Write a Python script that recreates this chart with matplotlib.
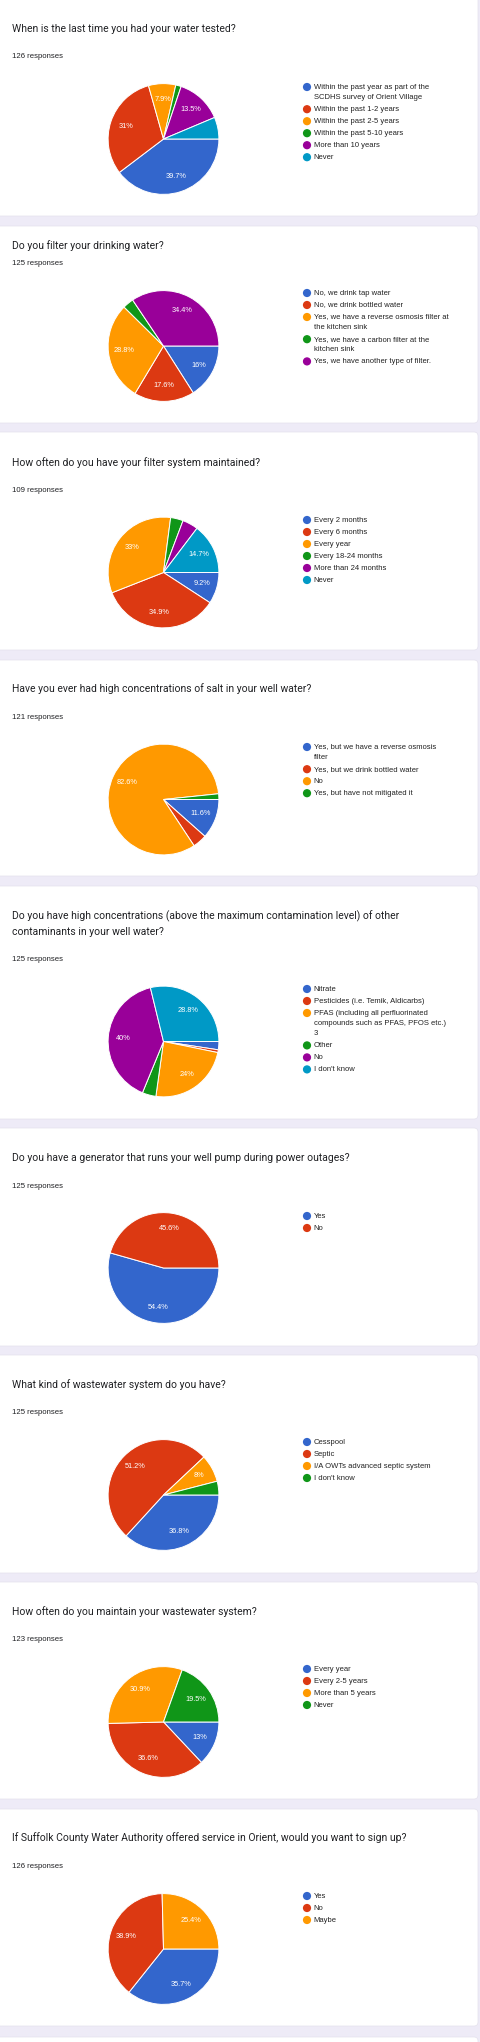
import matplotlib
matplotlib.use("Agg")
import matplotlib.pyplot as plt
from matplotlib.patches import FancyBboxPatch, Circle

plt.rcParams['font.family'] = ['Roboto', 'DejaVu Sans']
ARIAL = ['Liberation Sans', 'DejaVu Sans']

W, H = 480, 2042
DPI = 100

PALETTE = ["#3366cc", "#dc3912", "#ff9900", "#109618", "#990099", "#0099c6"]

# ---- data (response counts) ----
q1_title = ["When is the last time you had your water tested?"]
q1_n = 126
q1_labels = ["Within the past year as part of the\nSCDHS survey of Orient Village",
             "Within the past 1-2 years", "Within the past 2-5 years",
             "Within the past 5-10 years", "More than 10 years", "Never"]
q1_counts = [50, 39, 10, 2, 17, 8]

q2_title = ["Do you filter your drinking water?"]
q2_n = 125
q2_labels = ["No, we drink tap water", "No, we drink bottled water",
             "Yes, we have a reverse osmosis filter at\nthe kitchen sink",
             "Yes, we have a carbon filter at the\nkitchen sink",
             "Yes, we have another type of filter."]
q2_counts = [20, 22, 36, 4, 43]

q3_title = ["How often do you have your filter system maintained?"]
q3_n = 109
q3_labels = ["Every 2 months", "Every 6 months", "Every year",
             "Every 18-24 months", "More than 24 months", "Never"]
q3_counts = [10, 38, 36, 4, 5, 16]

q4_title = ["Have you ever had high concentrations of salt in your well water?"]
q4_n = 121
q4_labels = ["Yes, but we have a reverse osmosis\nfilter", "Yes, but we drink bottled water",
             "No", "Yes, but have not mitigated it"]
q4_counts = [14, 5, 100, 2]

q5_title = ["Do you have high concentrations (above the maximum contamination level) of other",
            "contaminants in your well water?"]
q5_n = 125
q5_labels = ["Nitrate", "Pesticides (i.e. Temik, Aldicarbs)",
             "PFAS (including all perfluorinated\ncompounds such as PFAS, PFOS etc.)\n3",
             "Other", "No", "I don't know"]
q5_counts = [3, 1, 30, 5, 50, 36]

q6_title = ["Do you have a generator that runs your well pump during power outages?"]
q6_n = 125
q6_labels = ["Yes", "No"]
q6_counts = [68, 57]

q7_title = ["What kind of wastewater system do you have?"]
q7_n = 125
q7_labels = ["Cesspool", "Septic", "I/A OWTs advanced septic system", "I don't know"]
q7_counts = [46, 64, 10, 5]

q8_title = ["How often do you maintain your wastewater system?"]
q8_n = 123
q8_labels = ["Every year", "Every 2-5 years", "More than 5 years", "Never"]
q8_counts = [16, 45, 38, 24]

q9_title = ["If Suffolk County Water Authority offered service in Orient, would you want to sign up?"]
q9_n = 126
q9_labels = ["Yes", "No", "Maybe"]
q9_counts = [45, 49, 32]

questions = [
    (q1_title, q1_n, q1_labels, q1_counts),
    (q2_title, q2_n, q2_labels, q2_counts),
    (q3_title, q3_n, q3_labels, q3_counts),
    (q4_title, q4_n, q4_labels, q4_counts),
    (q5_title, q5_n, q5_labels, q5_counts),
    (q6_title, q6_n, q6_labels, q6_counts),
    (q7_title, q7_n, q7_labels, q7_counts),
    (q8_title, q8_n, q8_labels, q8_counts),
    (q9_title, q9_n, q9_labels, q9_counts),
]

# ---- layout in pixels from the top of the image ----
cards = [(-8, 216), (226, 423), (432, 650), (660, 876), (886, 1119),
         (1128, 1346), (1355, 1573), (1582, 1799), (1809, 2026), (2037, 2070)]
title_y = [29, 246, 463, 689, 916, 1158, 1385, 1612, 1838]
resp_y = [56, 263, 490, 717, 959, 1186, 1412, 1639, 1866]
pie_y = [139, 346, 572.5, 799.5, 1041.5, 1268, 1495, 1722, 1949]
leg_y = [87, 293, 520, 747, 989, 1216, 1442, 1669, 1896]
pie_x, pie_r = 163.5, 56.5


def px(x, y):
    return x / DPI, (H - y) / DPI


fig = plt.figure(figsize=(W / DPI, H / DPI), dpi=DPI)
fig.patch.set_facecolor("#eeebf7")
tr = fig.dpi_scale_trans

for top, bot in cards:
    x0, y0 = px(0, bot)
    card = FancyBboxPatch((x0 - 0.05, y0), 478 / DPI + 0.05, (bot - top) / DPI,
                          boxstyle="round,pad=0,rounding_size=0.04",
                          facecolor="white", edgecolor="#e4e1ec", linewidth=0.5,
                          transform=tr, zorder=-5)
    fig.add_artist(card)

for i, (title, n, labels, counts) in enumerate(questions):
    for k, line in enumerate(title):
        fig.text(*px(12.5, title_y[i] + k * 15.7), line, transform=tr,
                 fontsize=7.5, color="#202124", va="center", ha="left")
    fig.text(*px(12.5, resp_y[i]), f"{n} responses", transform=tr,
             fontsize=5.6, color="#202124", va="center", ha="left", family=ARIAL)

    ax = fig.add_axes([(pie_x - pie_r) / W, 1 - (pie_y[i] + pie_r) / H,
                       2 * pie_r / W, 2 * pie_r / H])
    ax.set_zorder(5)

    def fmt(p):
        if p < 7:
            return ""
        return f"{round(p, 1):g}%"

    wedges, _, autotexts = ax.pie(counts, colors=PALETTE[:len(counts)], startangle=0,
                                  counterclock=False, autopct=fmt, pctdistance=0.72,
                                  wedgeprops=dict(edgecolor="white", linewidth=0.7),
                                  textprops=dict(color="white", fontsize=5.3,
                                                 family=ARIAL))
    ax.set_xlim(-1.02, 1.02)
    ax.set_ylim(-1.02, 1.02)
    ax.set_aspect("equal")
    ax.axis("off")

    y = leg_y[i]
    for j, lab in enumerate(labels):
        fig.add_artist(Circle(px(307, y), 3.4 / DPI, color=PALETTE[j], transform=tr))
        for k, line in enumerate(lab.split("\n")):
            fig.text(*px(313.5, y + k * 10.2), line, transform=tr, family=ARIAL,
                     fontsize=5.5, color="#222222", va="center", ha="left")
        y += 12 + 10.2 * (len(lab.split("\n")) - 1)

fig.savefig("out.png", dpi=DPI, facecolor=fig.get_facecolor())
